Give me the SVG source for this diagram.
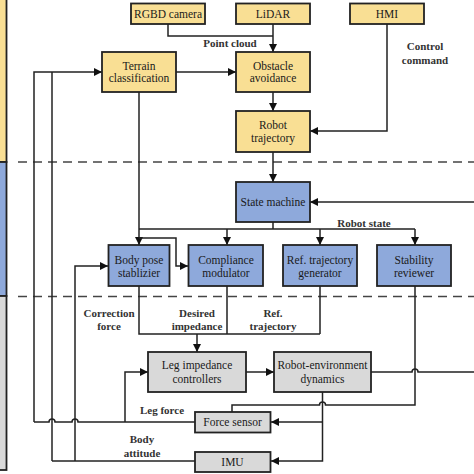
<svg xmlns="http://www.w3.org/2000/svg" width="474" height="474" viewBox="0 0 474 474">
<defs>
<style>
.y{fill:#F9DF94;stroke:#222;stroke-width:1.8}
.b{fill:#8EA9DB;stroke:#222;stroke-width:1.8}
.g{fill:#D9D9D9;stroke:#222;stroke-width:1.8}
.t{font-family:"Liberation Serif","Times New Roman",serif;font-size:11.5px;fill:#1a1a1a;text-anchor:middle}
.l{font-family:"Liberation Serif","Times New Roman",serif;font-size:11px;font-weight:bold;fill:#333;text-anchor:middle}
.c{fill:none;stroke:#222;stroke-width:1.5}
.a{marker-end:url(#ah)}
.d{fill:none;stroke:#444;stroke-width:1.5;stroke-dasharray:9,6}
</style>
<marker id="ah" markerUnits="userSpaceOnUse" markerWidth="8" markerHeight="8" refX="8" refY="4" orient="auto">
<path d="M0,0 L8,4 L0,8 z" fill="#111"/>
</marker>
</defs>
<rect width="474" height="474" fill="#fff"/>
<g id="strip">
<rect x="-2" y="-2" width="8.5" height="164" class="y" stroke-width="1.2"/>
<rect x="-2" y="162" width="8.5" height="134" class="b" stroke-width="1.2"/>
<rect x="-2" y="296" width="8.5" height="174" class="g" stroke-width="1.2"/>
</g>
<g id="dividers">
<line x1="18" y1="162" x2="474" y2="162" class="d"/>
<line x1="18" y1="296.5" x2="474" y2="296.5" class="d"/>
</g>
<g id="connectors">
<path class="c" d="M168,24 V36 H273"/>
<path class="c a" d="M273,24 V52"/>
<path class="c a" d="M387,24 V131 H310"/>
<path class="c a" d="M176,72 H236"/>
<path class="c a" d="M273,92 V111"/>
<path class="c a" d="M273,152 V182"/>
<path class="c a" d="M474,202 H310"/>
<path class="c" d="M273,222 V229 M139,229 H415"/>
<path class="c a" d="M139,92 V245"/>
<path class="c a" d="M139,238 H176 V266 H188"/>
<path class="c a" d="M227,229 V245"/>
<path class="c a" d="M320,229 V245"/>
<path class="c a" d="M415,229 V245"/>
<path class="c a" d="M34,422 V72 H102"/>
<path class="c" d="M52,461 V72"/>
<path class="c a" d="M75,461 V266 H108"/>
<path class="c" d="M195,422 H78 a3,3 0 0 0 -6,0 H55 a3,3 0 0 0 -6,0 H34"/>
<path class="c a" d="M125,422 V372 H148"/>
<path class="c" d="M195,461 H52"/>
<path class="c" d="M139,286 V334 H320 M227,286 V334 M320,286 V334"/>
<path class="c a" d="M197,334 V352"/>
<path class="c a" d="M246,372 H274"/>
<path class="c" d="M371,372 H412 a3,3 0 0 1 6,0 H474"/>
<path class="c" d="M415,286 V405 H325.5 a3,3 0 0 0 -6,0 H232 V412"/>
<path class="c a" d="M322.5,392 V461 H271"/>
<path class="c a" d="M322.5,422 H271"/>
</g>
<g id="rgbd"><rect x="131" y="3.5" width="74" height="20.5" class="y"/><text x="168" y="18" class="t">RGBD camera</text></g>
<g id="lidar"><rect x="236" y="3.5" width="74" height="20.5" class="y"/><text x="273" y="18" class="t">LiDAR</text></g>
<g id="hmi"><rect x="350" y="3.5" width="74" height="20.5" class="y"/><text x="387" y="18" class="t">HMI</text></g>
<g id="terrain"><rect x="102" y="52" width="74" height="40" class="y"/><text x="139" y="70" class="t">Terrain</text><text x="139" y="82" class="t">classification</text></g>
<g id="obstacle"><rect x="236" y="52" width="74" height="40" class="y"/><text x="273" y="70" class="t">Obstacle</text><text x="273" y="82" class="t">avoidance</text></g>
<g id="robottraj"><rect x="236" y="111" width="74" height="41" class="y"/><text x="273" y="128.5" class="t">Robot</text><text x="273" y="141.5" class="t">trajectory</text></g>
<g id="statemachine"><rect x="236" y="182" width="74" height="40" class="b"/><text x="273" y="206" class="t">State machine</text></g>
<g id="bodypose"><rect x="108.5" y="245" width="61" height="41" class="b"/><text x="139" y="263.5" class="t">Body pose</text><text x="139" y="277" class="t">stablizier</text></g>
<g id="compliance"><rect x="188.5" y="245" width="74.5" height="41" class="b"/><text x="226" y="263.5" class="t">Compliance</text><text x="226" y="277" class="t">modulator</text></g>
<g id="reftraj"><rect x="283" y="245" width="74" height="41" class="b"/><text x="320" y="263.5" class="t">Ref. trajectory</text><text x="320" y="277" class="t">generator</text></g>
<g id="stability"><rect x="377" y="245" width="74" height="41" class="b"/><text x="414" y="263.5" class="t">Stability</text><text x="414" y="277" class="t">reviewer</text></g>
<g id="legimp"><rect x="148" y="352" width="98" height="40" class="g"/><text x="197" y="369" class="t">Leg impedance</text><text x="197" y="383" class="t">controllers</text></g>
<g id="robotenv"><rect x="274" y="352" width="97" height="40" class="g"/><text x="322.5" y="369" class="t">Robot-environment</text><text x="322.5" y="383" class="t">dynamics</text></g>
<g id="forcesensor"><rect x="195" y="412" width="75.5" height="20.5" class="g"/><text x="232.5" y="426" class="t">Force sensor</text></g>
<g id="imu"><rect x="195" y="452" width="75.5" height="20" class="g"/><text x="232.5" y="466" class="t">IMU</text></g>
<g id="labels">
<text x="230" y="47" class="l">Point cloud</text>
<text x="425" y="50" class="l">Control</text>
<text x="425" y="64" class="l">command</text>
<text x="364" y="226.5" class="l">Robot state</text>
<text x="109" y="316.5" class="l">Correction</text>
<text x="109" y="330" class="l">force</text>
<text x="197" y="316.5" class="l">Desired</text>
<text x="197" y="330" class="l">impedance</text>
<text x="273" y="316.5" class="l">Ref.</text>
<text x="273" y="330" class="l">trajectory</text>
<text x="162" y="414" class="l">Leg force</text>
<text x="142" y="443" class="l">Body</text>
<text x="142" y="457" class="l">attitude</text>
</g>
</svg>
